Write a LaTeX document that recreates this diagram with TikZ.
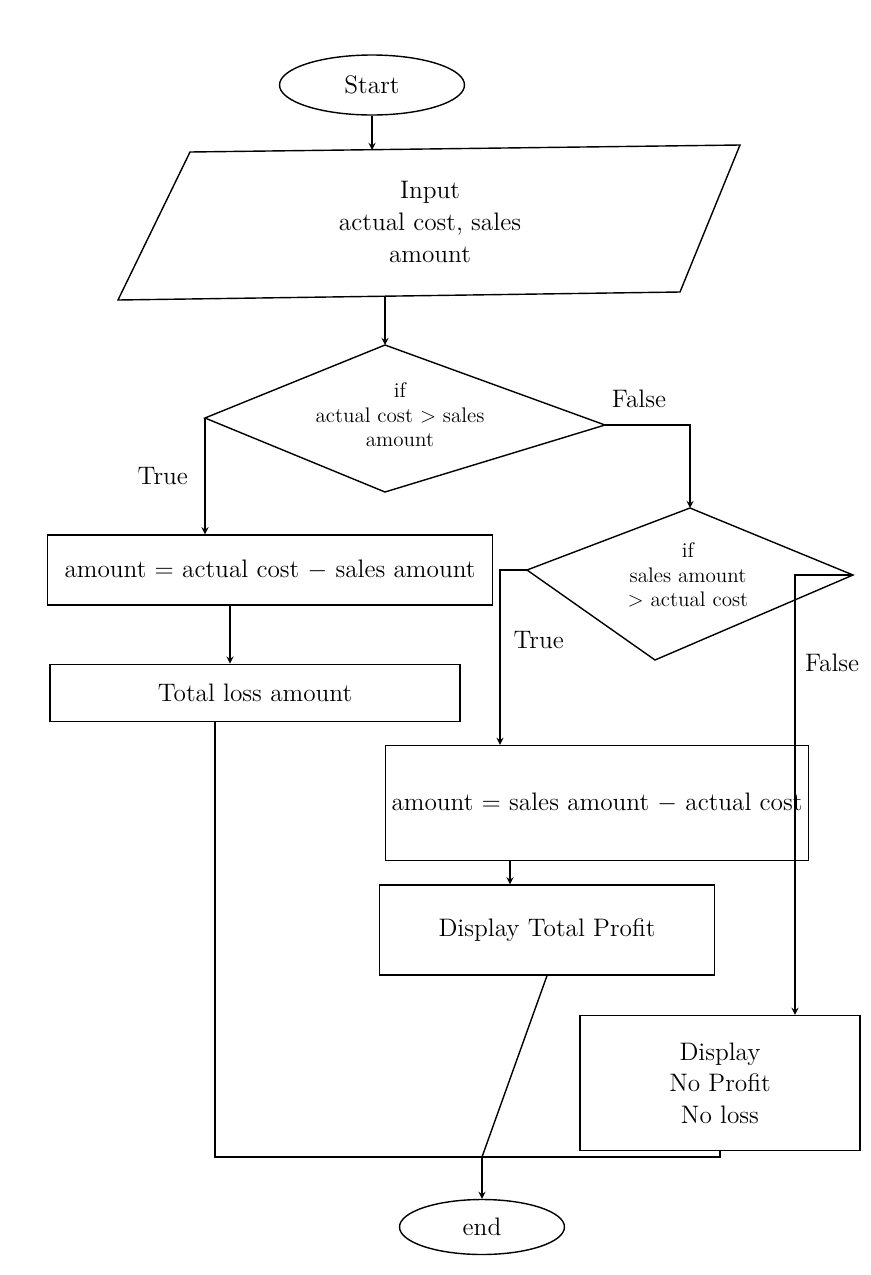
\documentclass[tikz,border=0pt]{standalone}
\usepackage{amsmath}
\usetikzlibrary{shapes.geometric,positioning}
\tikzset{
    box/.style={draw=black,thick,rectangle,align=center,font=\Large},
    term/.style={draw=black,thick,ellipse,font=\Large},
    ctext/.style={align=center,font=\large,inner sep=0pt},
    flow/.style={thick,->,>=stealth},
    line/.style={thick}
}
\begin{document}
\begin{tikzpicture}[x=0.02cm,y=-0.02cm]
    \useasboundingbox (0,0) rectangle (871,1275);

    \node[term,minimum width=3.7cm,minimum height=1.2cm] (start) at (372,85) {Start};

    % input
    \node[font=\Large,align=center] (input) at (430,222)
            {Input\\actual cost, sales\\amount};
    \draw[thick] (190,152) -- (740,145) -- (680,292) -- (118,300) -- cycle;
    \coordinate (intop) at (372,150);
    \coordinate (inbot) at (385,296);

    % first decision
    \coordinate (c1t) at (385,345);
    \coordinate (c1l) at (205,418);
    \coordinate (c1r) at (605,425);
    \coordinate (c1b) at (385,492);
    \draw[thick] (c1t) -- (c1r) -- (c1b) -- (c1l) -- cycle;
    \node[ctext] (c1) at (400,415) {if\\actual cost $>$ sales\\amount};

    % second decision
    \coordinate (c2t) at (690,508);
    \coordinate (c2l) at (527,570);
    \coordinate (c2r) at (853,575);
    \coordinate (c2b) at (655,660);
    \draw[thick] (c2t) -- (c2r) -- (c2b) -- (c2l) -- cycle;
    \node[ctext] (c2) at (688,575) {if\\sales amount\\$>$ actual cost};

    \node[box,minimum width=8.9cm,minimum height=1.4cm] (loss) at (270,570)
            {amount = actual cost $-$ sales amount};
    \node[box,minimum width=8.2cm,minimum height=1.15cm] (losstxt) at (255,693)
            {Total loss amount};
    \node[box,minimum width=8.3cm,minimum height=2.3cm] (gain) at (597,803)
            {amount = sales amount $-$ actual cost};
    \node[box,minimum width=6.7cm,minimum height=1.8cm] (gaintxt) at (547,930)
            {Display Total Profit};
    \node[box,minimum width=5.6cm,minimum height=2.7cm] (none) at (720,1083)
            {Display\\No Profit\\No loss};

    \node[term,minimum width=3.3cm,minimum height=1.1cm] (end) at (482,1227) {end};

    \draw[flow] (start) -- (intop);
    \draw[flow] (inbot) -- (c1t);
    \draw[flow] (c1l) -- node[pos=0.5,left=6pt,font=\Large] {True} (loss.north -| c1l);
    \draw[flow] (c1r) -| node[pos=0.2,above=6pt,font=\Large] {False} (c2t);
    \draw[flow] (loss.south -| 230,0) -- (losstxt.north -| 230,0);
    \draw[flow] (c2l) -| node[pos=0.7,right=4pt,font=\Large] {True} (gain.north -| 500,0);
    \draw[flow] (c2r) -| node[pos=0.6,right=2pt,font=\Large] {False} (none.north -| 795,0);
    \draw[flow] (gain.south -| 510,0) -- (gaintxt.north -| 510,0);
    \coordinate (join) at (482,1157);
    \draw[line] (losstxt.south -| 215,0) |- (join);
    \draw[line] (none.south) |- (join);
    \draw[line] (gaintxt.south) -- (join);
    \draw[flow] (join) -- (end.north);
\end{tikzpicture}
\end{document}
